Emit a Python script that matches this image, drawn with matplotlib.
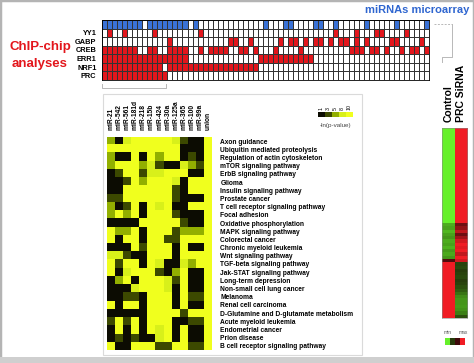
import numpy as np
import matplotlib
matplotlib.use('Agg')
import matplotlib.pyplot as plt
from matplotlib.colors import ListedColormap, LinearSegmentedColormap
from matplotlib.patches import Rectangle
from matplotlib.lines import Line2D

plt.rcParams['font.family'] = ['Liberation Sans', 'DejaVu Sans']
plt.rcParams['font.weight'] = 'bold'

W, H = 474, 363

# --- top grid: ChIP-chip / microarray hits per miRNA ---
n_grid = 65
grid_rows = ['', 'YY1', 'GABP', 'CREB', 'ERR1', 'NRF1', 'PRC']
microarray = list(range(0, 8)) + list(range(9, 17)) + [18, 32, 36, 37, 42, 43, 46, 52, 58, 64]
yy1 = [1, 4, 10, 19, 46, 50, 54, 55, 60]
gabp = [13, 25, 26, 29, 35, 37, 38, 40, 42, 43, 45, 47, 48, 50, 52, 57, 58, 63]
creb = list(range(0, 7)) + [9, 10, 13, 14, 15, 16, 19, 21, 22, 23, 24, 27, 28, 30, 34, 39,
                            49, 50, 51, 53, 54, 56, 59, 61, 62, 64]
err1 = list(range(0, 17)) + list(range(31, 42))
nrf1 = list(range(0, 12)) + list(range(13, 31))
prc = list(range(0, 13))

# --- enrichment heatmap ---
mirnas = ['miR-21', 'miR-542', 'miR-561', 'miR-181d', 'miR-218', 'miR-15b', 'miR-424',
          'miR-30a', 'miR-125a', 'miR-365', 'miR-100', 'miR-99a', 'union']
pathways = ['Axon guidance', 'Ubiquitin mediated proteolysis', 'Regulation of actin cytoskeleton',
            'mTOR signaling pathway', 'ErbB signaling pathway', 'Glioma', 'Insulin signaling pathway',
            'Prostate cancer', 'T cell receptor signaling pathway', 'Focal adhesion',
            'Oxidative phosphorylation', 'MAPK signaling pathway', 'Colorectal cancer',
            'Chronic myeloid leukemia', 'Wnt signaling pathway', 'TGF-beta signaling pathway',
            'Jak-STAT signaling pathway', 'Long-term depression', 'Non-small cell lung cancer',
            'Melanoma', 'Renal cell carcinoma', 'D-Glutamine and D-glutamate metabolism',
            'Acute myeloid leukemia', 'Endometrial cancer', 'Prion disease',
            'B cell receptor signaling pathway']
pval = [
    [5, 1, 8, 10, 10, 10, 10, 10, 8, 3, 1, 1, 10],
    [10, 10, 10, 10, 10, 10, 10, 10, 10, 1, 1, 1, 10],
    [5, 1, 1, 10, 1, 10, 5, 10, 10, 1, 3, 1, 10],
    [5, 10, 10, 10, 5, 8, 3, 1, 1, 8, 5, 3, 10],
    [1, 3, 10, 10, 3, 8, 8, 10, 10, 10, 1, 1, 10],
    [1, 1, 3, 10, 5, 10, 10, 10, 8, 1, 10, 10, 10],
    [1, 1, 10, 10, 10, 10, 10, 10, 3, 1, 10, 10, 10],
    [3, 3, 10, 10, 10, 10, 10, 10, 3, 1, 1, 1, 10],
    [5, 1, 3, 10, 1, 10, 8, 10, 1, 1, 10, 10, 10],
    [5, 10, 5, 10, 1, 10, 10, 10, 3, 1, 1, 1, 10],
    [1, 1, 1, 1, 10, 10, 10, 10, 10, 3, 1, 1, 10],
    [10, 5, 5, 10, 1, 10, 10, 10, 3, 5, 5, 5, 10],
    [10, 1, 10, 10, 1, 10, 10, 3, 3, 10, 10, 10, 10],
    [1, 1, 1, 10, 3, 10, 10, 10, 1, 10, 1, 1, 10],
    [8, 8, 3, 1, 1, 10, 10, 10, 1, 10, 10, 10, 10],
    [10, 3, 10, 10, 1, 10, 8, 1, 1, 8, 5, 10, 10],
    [10, 1, 8, 10, 10, 10, 3, 1, 5, 10, 1, 1, 10],
    [1, 5, 10, 1, 10, 10, 10, 8, 3, 10, 1, 1, 10],
    [1, 1, 1, 8, 10, 10, 10, 8, 1, 10, 1, 1, 10],
    [1, 1, 3, 3, 1, 10, 10, 10, 1, 10, 3, 3, 10],
    [10, 1, 10, 10, 1, 10, 10, 10, 1, 10, 1, 1, 10],
    [1, 1, 1, 1, 1, 10, 10, 10, 10, 3, 10, 10, 10],
    [3, 10, 3, 10, 1, 10, 10, 10, 1, 1, 3, 3, 10],
    [1, 10, 1, 10, 1, 10, 8, 10, 1, 10, 1, 1, 10],
    [1, 3, 1, 3, 1, 1, 8, 10, 1, 10, 1, 1, 10],
    [10, 1, 1, 10, 10, 10, 3, 3, 10, 10, 3, 3, 10],
]
pval_ticks = [1, 3, 5, 8, 10]

# --- expression heatmap (Control vs PRC siRNA) ---
control = [-1.0] * 29 + [-0.7, -0.65, -0.75, -0.65, -0.6, -0.7, -0.65, -0.72, -0.62, -0.68, -0.6, 0.5] + [1.0] * 17
prc_sirna = [1.0] * 29 + [0.6, 0.7, 0.85, 0.6, 0.75, 0.9, 1.0, 0.95, 1.0, 0.85, 1.0, 0.9] + \
            [-0.15, -0.2, -0.1, -0.15, -0.2, -0.1, -0.15, -0.25, -0.35, -0.45, -0.55, -0.6, -0.6, -0.62, -0.58, -0.5, -0.25]

fig = plt.figure(figsize=(W / 100, H / 100), dpi=100)


def box(x0, y0, x1, y1):
    return fig.add_axes([x0 / W, 1 - y1 / H, (x1 - x0) / W, (y1 - y0) / H])


def ftext(x, y, s, **kw):
    fig.text(x / W, 1 - y / H, s, **kw)


# frame
fig.patches.append(Rectangle((0, 0), 1, 1, transform=fig.transFigure, fill=False,
                             edgecolor='#b4b4b4', lw=2.5))
fig.patches.append(Rectangle((0, 0), 1, 6 / H, transform=fig.transFigure,
                             facecolor='#cfcfcf', edgecolor='none'))
fig.patches.append(Rectangle((103 / W, 1 - 355 / H), 259 / W, 261 / H, transform=fig.transFigure,
                             fill=False, edgecolor='#dadada', lw=0.8))

# top grid
M = np.zeros((len(grid_rows), n_grid))
M[0, microarray] = 2
for i, cols in enumerate([yy1, gabp, creb, err1, nrf1, prc], start=1):
    M[i, cols] = 1
ax = box(102, 20, 429, 80)
ax.pcolormesh(M, cmap=ListedColormap(['white', '#e3161c', '#3a72d6']), vmin=0, vmax=2,
              edgecolors='#333333', linewidth=0.45)
ax.set_xlim(0, n_grid)
ax.set_ylim(len(grid_rows), 0)
ax.set_xticks([])
ax.set_yticks(np.arange(len(grid_rows)) + 0.5)
ax.set_yticklabels(grid_rows, fontsize=5.3, fontweight='bold')
ax.tick_params(length=0, pad=4)
for s in ax.spines.values():
    s.set_linewidth(0.6)

ftext(40, 47, 'ChIP-chip', color='#e3161c', fontsize=9.5, ha='center', va='center')
ftext(40, 64, 'analyses', color='#e3161c', fontsize=9.5, ha='center', va='center')
ftext(469, 10, 'miRNAs microarray', color='#2f66d0', fontsize=8, ha='right', va='center')

# brackets / connectors
gl = dict(color='#b8b8b8', lw=0.7, transform=fig.transFigure)
def pline(xs, ys, **kw):
    fig.lines.append(Line2D([x / W for x in xs], [1 - y / H for y in ys], **{**gl, **kw}))

pline([102, 102, 166, 166], [84, 88, 88, 84])
pline([434, 452], [24, 24], ls=(0, (2, 1.5)))
pline([452, 452, 442, 442], [24, 57, 57, 62])

# enrichment heatmap
cmap_p = LinearSegmentedColormap.from_list('py', [(0, '#0c0c02'), (2 / 9, '#3d4a00'),
                                                  (4 / 9, '#93b000'), (7 / 9, '#d8f01a'),
                                                  (1, '#f0ff1e')])
ax2 = box(107, 137, 212, 350)
ax2.imshow(np.array(pval), cmap=cmap_p, vmin=1, vmax=10, aspect='auto', interpolation='nearest')
ax2.set_xticks(range(len(mirnas)))
ax2.set_xticklabels(mirnas, rotation=90, fontsize=4.8, fontweight='bold')
ax2.xaxis.tick_top()
ax2.set_yticks(range(len(pathways)))
ax2.set_yticklabels(pathways, fontsize=4.8, fontweight='bold')
ax2.yaxis.tick_right()
ax2.tick_params(length=0)
ax2.tick_params(axis='y', pad=6)
ax2.tick_params(axis='x', pad=5)
for s in ax2.spines.values():
    s.set_visible(False)

# p-value legend
ax3 = box(318, 112, 353, 117)
ax3.imshow([pval_ticks], cmap=cmap_p, vmin=1, vmax=10, aspect='auto')
ax3.set_xticks(range(len(pval_ticks)))
ax3.set_xticklabels(pval_ticks, rotation=90, fontsize=3.8, fontweight='normal')
ax3.xaxis.tick_top()
ax3.set_yticks([])
ax3.tick_params(length=0, pad=1.5)
for s in ax3.spines.values():
    s.set_visible(False)
ftext(336, 125, '-ln(p-value)', fontsize=4.5, fontweight='normal', color='#444444',
      ha='center', va='center')

# expression heatmap
cmap_e = LinearSegmentedColormap.from_list('gr', ['#66f02a', '#2f5a10', '#1a0606', '#f01c24'])
ax4 = box(442, 128, 467, 318)
ax4.imshow(np.array([control, prc_sirna]).T, cmap=cmap_e, vmin=-1, vmax=1, aspect='auto',
           interpolation='nearest')
ax4.set_xticks([0, 1])
ax4.set_xticklabels(['Control', 'PRC SiRNA'], rotation=90, fontsize=7.5, fontweight='bold')
ax4.xaxis.tick_top()
ax4.set_yticks([])
ax4.tick_params(length=0, pad=4)
for s in ax4.spines.values():
    s.set_linewidth(0.4)
    s.set_color('#888888')

# min / max legend
ax5 = box(445, 338, 465, 345)
ax5.imshow([[-1, -0.1, 0.45, 1]], cmap=cmap_e, vmin=-1, vmax=1, aspect='auto')
ax5.axis('off')
ftext(448, 332, 'min', fontsize=3.5, fontweight='normal', color='#555555', ha='center', va='center')
ftext(463, 332, 'max', fontsize=3.5, fontweight='normal', color='#555555', ha='center', va='center')

fig.savefig('out.png', dpi=100, facecolor='white')
